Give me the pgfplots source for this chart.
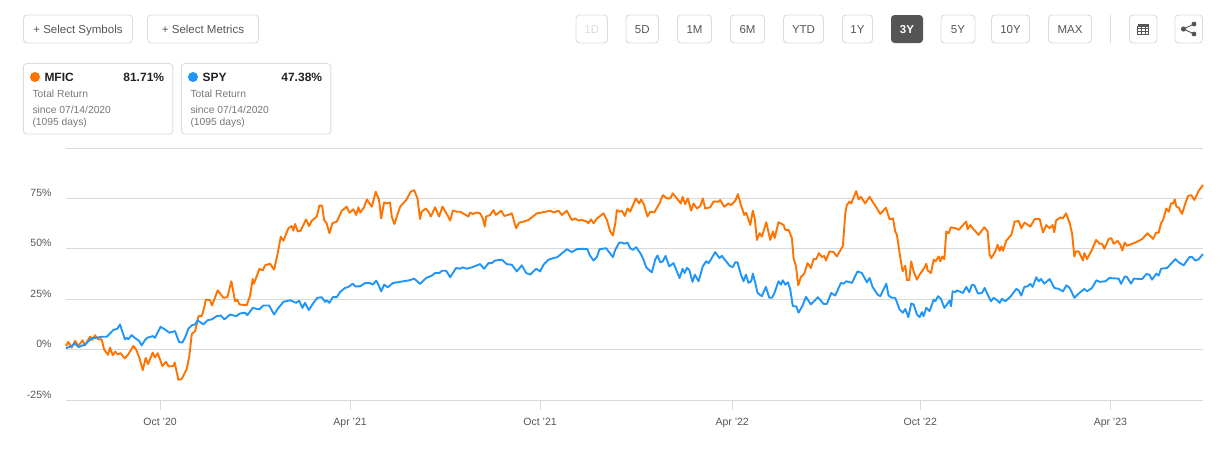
\documentclass[border=0pt]{standalone}
\usepackage{fontspec}
\setmainfont{Liberation Sans}
\usepackage{pgfplots}
\usepackage{pgfplotstable}
\pgfplotsset{compat=1.18}
\definecolor{mficc}{HTML}{FF7300}
\definecolor{spyc}{HTML}{2196F8}
\definecolor{gridc}{HTML}{D9D9D9}
\definecolor{boxc}{HTML}{DCDCDC}
\definecolor{txt}{HTML}{555555}
\definecolor{subtxt}{HTML}{777777}
\definecolor{dark}{HTML}{222222}
\newcommand{\fs}[1]{\fontsize{#1}{#1}\selectfont}
% x1, x2, label: toolbar button
\newcommand{\btn}[3]{%
  \draw[boxc, rounded corners=3.5, fill=white, line width=0.9] (#1,15) rectangle (#2,43);
  \node[txt, font=\fs{11.5}, anchor=base, inner sep=0] at ({(#1+#2)/2},33) {#3};}
% x offset, ticker, value, colour: summary card
\newcommand{\card}[4]{%
  \draw[boxc, rounded corners=3.5, line width=0.9] (#1,63.5) rectangle ({#1+149.5},134);
  \fill[#4] ({#1+11.7},77) circle (5);
  \node[dark, font=\bfseries\fs{12}, anchor=base west, inner sep=0] at ({#1+21},81.3) {#2};
  \node[dark, font=\bfseries\fs{12}, anchor=base east, inner sep=0] at ({#1+141},81.3) {#3};
  \node[subtxt, font=\fs{10.3}, anchor=base west, inner sep=0] at ({#1+9},97.2) {Total Return};
  \node[subtxt, font=\fs{10.3}, anchor=base west, inner sep=0] at ({#1+9},113.5) {since 07/14/2020};
  \node[subtxt, font=\fs{10.3}, anchor=base west, inner sep=0] at ({#1+9},125.5) {(1095 days)};}

\pgfplotstableread{
day val
0 1.8
2.2 3.8
5.5 1
8.7 4.3
11.9 1.8
16 4.6
18.3 2.1
23.1 6.4
25 4.8
27.9 7.1
31 5.1
34.4 5.1
36.6 0.2
40.5 -2.6
42.4 1
45 -2.8
47.5 -1
49.5 -2.3
52.7 -1.8
56.5 -4.4
60 -2.3
64.9 1.8
67.4 0.2
70.6 -3.9
73.9 -10.2
76.8 -4.1
79 -7.2
83.5 -1.5
85.7 -3.9
88.3 -1.8
92.8 -8.1
96.3 -6.1
98.9 -8.4
103.4 -8.1
104.7 -6.4
108.2 -15
111.4 -14.6
116.2 -9.7
118.8 -3.1
121.1 7.6
124.3 9.2
125.9 12.5
127.5 16.6
130.7 16.6
133 20.7
134.6 24.8
138.7 24.5
140.7 21.9
146.1 29.4
151.6 25.7
155.4 26
159.3 33.9
162.8 24
165 24.8
167 22.4
174 22
177.2 26.5
179.8 35
181 32.7
186.2 40
189.5 39.3
191.7 41.8
196.5 42.6
200.4 39.6
203.6 47
206.8 56
209.4 54
214.2 60.2
217.4 61.3
219 59
220.6 62.3
223.2 58.6
226 59
231.2 64.6
234.1 61.3
236.7 64
241.5 66
244 71.4
246.6 71.4
248.6 64.3
251 62.7
253.7 57.7
256.6 62.7
260.8 63.5
265.6 68.9
270.4 70.9
273 67.9
276.8 69.6
279.4 66.8
281.6 70.6
283.2 67.9
287.1 70.6
289.7 74.5
294.5 70.9
298.3 78.3
301.5 74.2
303.5 65.1
306.4 73
309 72.5
312.1 73
313.7 66
316.3 62.3
321.8 70.9
327.6 74.2
332 78.3
335.3 79.1
338.5 75
341 64.8
342.6 68.4
346.5 70
349.1 68.4
351.3 66
355.5 70.6
359.3 66
362.6 70.9
366.1 67.9
370 64
372.5 68.9
376.4 68.4
379.6 68.4
387.6 66
389.2 68
391.8 67.3
395.6 68
398.8 67.6
401.4 65
403.3 61
404.6 66
408.5 66.8
411.7 69.2
414 66.8
419.1 68.9
422 66.3
426.1 66.8
429.3 67.6
433.5 60.2
436.4 63
440.6 63.5
445.4 64.3
448.6 65.6
453.4 67.6
458.3 68
466.3 68.9
469.5 68
474.3 68.9
477.5 66.8
482.3 68.9
487.1 64.3
490.4 65
493.6 64
496.8 64.3
501.6 63.5
503.2 62.7
505.5 64.6
508 62.7
511.3 65
517.7 67.6
520.9 64.3
524.1 58.6
526.7 56.6
529 62.7
530.5 69.2
533.1 68.4
535.3 68.9
538.2 66.3
540.8 70
543.3 68.4
548.8 75
552 72.5
553.9 74.5
556.8 71.7
560 66
562.6 68.4
566.5 68
571.6 72.5
574.8 76.6
578.7 75
581.9 75
584.4 77.5
588.3 75
592.1 72.5
593.8 75.8
596.3 72.2
598.9 75
602.1 68.9
604.3 72.5
607.6 70
610.8 71.2
613.3 75
615.6 70
620.4 70.6
623.6 73.4
628.4 73.4
630 74.2
633.9 70.9
638.1 72.5
640.3 71.7
644.5 73.8
647.1 77.1
650 71.7
653.2 66.8
655.1 67.9
659 61.8
661.5 68.9
663.4 64.6
665.4 54.4
668 57.7
670.2 56.1
674.4 63.2
678.2 54.4
680.8 58.6
682.4 55.3
686.2 63.2
691.1 61.8
692.7 59.4
695.9 59.4
699.1 55.3
700.7 45.4
703 41.3
705.2 31.9
707.8 36
711 37.7
714.2 42.9
717.4 40.5
720 44.9
722.5 44.9
725.1 47.9
728 45.9
730.2 46.5
731.8 44.2
735.4 48.7
739.2 48.4
742.4 46.2
748.2 51.5
750.5 67.6
752 71.7
754.6 73.4
756.2 72.5
761 78.6
763.3 74.5
765.5 75.8
769.7 72.5
773.9 75.8
777.8 72.5
781 70
784.2 67.3
789.6 70.4
793.2 64.6
796.4 65.1
798.6 58.6
800.2 56.9
802.8 47.9
805.7 38.8
808.3 41.6
809.9 34.4
812.1 34.4
814 43.8
816.3 38.8
819.5 34.7
822.1 37.2
826.6 40.5
828.5 42.6
829.8 39.3
833 38
835.6 44.6
837.5 43.8
840.4 46.2
842 43.8
843.6 46.2
845.9 44.9
847.8 58.6
850 57.7
852.3 60.7
856.5 60.2
859.7 59.4
867 63.5
868.3 59.7
870.9 61.8
873.2 60.2
878.9 56.9
884.4 60.7
887.6 58.6
889.5 47
891.1 45.4
895 48.7
897.2 52
899.2 49
900.8 51.2
902.4 49
905.6 54.1
910.4 56.9
913.6 63.5
917.5 63.8
920 60.2
923.2 63
928.7 61
932.9 64.8
937.7 64.8
940.9 58.1
944.1 61.8
947.3 60.2
950.2 61.8
951.8 58.2
953.4 64
957.6 65.6
960.2 65.1
963.1 67.6
966.6 62.7
968.9 57.7
971.1 46.2
972.7 48.7
975.3 48.7
979.4 44.2
980.7 47.9
983.3 44.9
988.1 49.5
992 54.4
995.5 52.5
997.8 52.5
1000 50
1004.2 54.9
1006.7 55.3
1009 52.5
1012.8 53.9
1015.4 52
1017.3 49.2
1019.6 53.1
1021.8 51.5
1029.9 53.1
1036.3 54.8
1041.7 57.7
1046.9 54.9
1049.8 58
1052.3 58
1054.6 62.7
1056.5 64.3
1059.7 70
1062 68.4
1064.2 72.5
1066.2 72.5
1067.8 74.5
1069.4 70.9
1071.6 70.4
1074.8 67.3
1078 72.5
1080.6 76.2
1083.8 76.6
1086.7 74.2
1090.9 78.8
1095 81.71
}\mfic

\pgfplotstableread{
day val
0 0.7
5.5 1.8
8.7 3.1
11.9 1.3
15 1.8
18.3 2.6
24.7 5.6
29.5 5.9
34.4 6.4
39.2 6.4
45.6 9.7
49.5 10.4
52 12.5
54.6 8.4
56.8 5.1
58.4 5.9
60 5.1
63.2 7.2
67.4 5.4
70.3 4.3
72.9 2.1
76.1 4.8
78.4 5.9
83.5 6.7
85.7 5.9
91.1 11.3
95.3 10
99.5 8.4
105 9.2
108.8 3.8
112 3.5
114.6 5.9
117.9 10.4
121.1 12
124.3 12.5
126.8 14.5
132.3 12.5
136.5 14.6
140.3 15
145.2 16.6
149 16.9
152.6 15
158 17.4
163.8 16.6
167.6 17.9
172.4 18.3
174.7 17.1
179.8 20.7
186.2 19.9
190 21.9
195.6 21.9
200.4 17.4
204.6 20.7
209.4 23.7
215.8 24.5
221.6 23.2
224.5 24.3
227.7 20.7
230.2 23.2
233.8 19.6
238.3 23.2
242.1 25.7
246.3 26
249.5 23.7
251.1 24.5
253.7 23.2
256.9 26
260.8 26
264 28.6
268.8 30.6
272 31.1
276.2 32.7
278.4 31.4
283.2 31.4
288 33
292.9 33
295.4 32.2
298.7 34.2
300.9 32.2
303.5 28.9
306.4 32.2
309.9 30.9
314.7 33
325 33.9
330.8 34.4
335.3 35.2
341 32.6
346.8 35.5
352.3 36.7
355.5 38
359.7 38
362 39.1
366.1 39.1
370 35.9
375.7 40.5
379.6 40.1
382.1 40.8
386 40.1
390.8 40.8
398.8 42.4
402.7 40.1
406.9 42.9
410.1 42.9
413.3 44.2
419.7 44.6
424.5 42.4
429.3 42.1
434.2 38.8
439 41.8
443.2 38
447 37.2
452.8 40.1
456.7 38.8
459.9 42.1
464.7 44.6
469.5 45.4
473.3 45.9
482.3 49.8
487.1 48.4
492 49.8
496.8 50
502.2 49.8
504.2 47
508 44.2
511.3 45.9
513.8 49.8
520.2 50.3
522.5 48.7
526.7 45.9
529 49.5
532.8 53.1
535.3 53.1
537.6 52.5
540.8 53.1
543.3 50.3
545.9 49.5
549.1 50.8
553 47.9
556.2 44.6
558.8 40.8
564.2 38.3
567.4 44.6
569.7 46.7
572.2 43.3
574.8 43.8
577.4 46.5
580.9 41.3
585.1 42.9
588.3 38.8
590.9 35.5
593.8 40.1
595.7 38
598 40.5
600.2 39.6
603.4 33.6
605.6 37.2
609.2 33.9
613.3 41.3
616.5 43.8
618.8 42.9
621 44.6
625.2 48.4
629.4 45.4
631.6 46.5
637.1 42.9
639.7 41.3
642.2 41
644.5 43.3
646.7 43.3
650 37.2
652.5 33.9
654.8 37.2
657.3 33.1
659.9 33.9
661.5 37.7
663.8 33.1
666 28.1
670.2 26.5
674 31.1
677.3 25.7
679.8 25.7
682.1 27.8
686.2 33.9
688.5 32.2
690.4 34.4
692.7 32.2
695.2 33.4
697.5 29.8
700 21.5
703.3 21.5
705.5 18.3
709.4 21.9
712.6 26.2
717.4 22.4
724.1 26
729.6 22.7
732.8 22.7
737 28.1
740.8 26.8
746.3 33.1
748.9 32.7
751.4 33.9
756.9 33.1
762.3 38.8
766.5 38
771.3 33.4
773.9 35.5
776.8 31.1
781.6 27.3
784.2 26.5
790 32.7
792.2 26.8
795.4 25.7
798.6 25.7
802.8 19.9
806 18.3
808.3 20.2
811.2 16.1
814 22.9
816.3 22.4
819.5 17.4
822.1 16.1
824.3 18.6
825.9 16.6
828.5 20.7
831.7 19.1
835.6 24.8
837.2 24
839.8 26.5
842.6 25.2
845.9 20.7
851 24.3
852.3 21.5
853.9 28.9
856.5 28.5
858.1 29.4
863.8 28.1
867 31.1
869.9 28.5
872.5 32.2
874.8 31.9
878.3 27.8
882.1 28.1
884.7 30.6
887.6 27.3
890.8 24
893.4 25.7
896.6 24.5
899.2 23.2
901.4 25.2
904.6 24
909.4 26.2
915.2 30.1
917.5 29.4
920 26.8
922.9 31.1
926.1 31.4
928.7 32.6
930.9 31.1
934.5 35.9
936.7 33.9
939 35
942.2 32.7
947.3 35
951.8 30.6
956 30.1
960.2 28.9
963.4 31.9
966.6 30.6
971.1 25.7
975.3 27.8
980.7 30.1
983.3 28.9
988.1 30.6
992.3 34.4
995.5 33.6
1001 33.9
1004.8 35.5
1013.8 35.2
1016.1 32.6
1019.6 36.3
1021.8 36
1025.7 32.7
1028.3 35.2
1036.3 35
1040.5 37.5
1043.4 37.2
1045.9 34.7
1050.1 37.7
1052.3 36.7
1054.6 40.1
1060.4 40.5
1068.4 44.9
1071.6 43.3
1076.4 41.8
1081.9 45.9
1084.5 45.9
1087.7 44.1
1090.9 44.9
1095 47.38
}\spy

\begin{document}
\begin{tikzpicture}[x=1pt,y=-1pt]
\path (0,0) rectangle (1225,448);

\btn{23.5}{132.5}{+ Select Symbols}
\btn{147.5}{258.5}{+ Select Metrics}
\draw[boxc, rounded corners=3.5, line width=0.9] (576,15) rectangle (607.5,43);
\node[boxc, font=\fs{11.5}, anchor=base, inner sep=0] at (591.8,33) {1D};
\btn{626}{658.5}{5D}
\btn{677.5}{711.5}{1M}
\btn{730.5}{764.5}{6M}
\btn{783.5}{823.5}{YTD}
\btn{842.5}{872.5}{1Y}
\fill[txt, rounded corners=3.5] (891,15) rectangle (923,43);
\node[white, font=\bfseries\fs{11.5}, anchor=base, inner sep=0] at (907,33) {3Y};
\btn{941}{975}{5Y}
\btn{991.5}{1029.5}{10Y}
\btn{1048.5}{1091.5}{MAX}
\draw[boxc, line width=0.9] (1110.7,15) -- (1110.7,43);
\btn{1129.5}{1157}{}
\btn{1175}{1202.5}{}
% table icon
\fill[txt] (1137.5,23.5) rectangle (1149,26.5);
\draw[txt, line width=0.7] (1137.8,26) rectangle (1148.7,34.5)
  (1137.8,28.8) -- (1148.7,28.8) (1137.8,31.6) -- (1148.7,31.6)
  (1141.4,26) -- (1141.4,34.5) (1145.1,26) -- (1145.1,34.5);
% share icon
\draw[txt, line width=0.9] (1194,24) -- (1183.5,29) -- (1194,34);
\fill[txt] (1194,24) circle (2.4) (1183.5,29) circle (2.6) (1194,34) circle (2.4);

\card{23.3}{MFIC}{81.71\%}{mficc}
\card{181.3}{SPY}{47.38\%}{spyc}

\begin{axis}[
  at={(66pt,-400pt)}, anchor=south west,
  scale only axis, width=1137pt, height=252pt,
  xmin=0, xmax=1095, ymin=-25, ymax=100,
  axis line style={draw=none},
  ytick={-25,0,25,50,75,100},
  yticklabels={-25\%,0\%,25\%,50\%,75\%,{}},
  xtick={90.6,273.6,456.6,641.6,822.7,1005.8},
  xticklabels={Oct '20,Apr '21,Oct '21,Apr '22,Oct '22,Apr '23},
  ymajorgrids, major grid style={gridc, line width=0.9pt},
  tick align=outside, xtick pos=bottom,
  y tick style={draw=none},
  x tick style={gridc, line width=0.9pt},
  major tick length=10pt,
  x tick label style={font=\fs{10.5}, text=txt, yshift=-5pt},
  y tick label style={font=\fs{10.5}, text=txt, xshift=-1pt, yshift=5.5pt},
  clip=false,
]
\addplot[mficc, line width=1.9pt, line join=round] table[x=day, y=val] {\mfic};
\addplot[spyc, line width=1.9pt, line join=round] table[x=day, y=val] {\spy};
\end{axis}
\end{tikzpicture}
\end{document}
